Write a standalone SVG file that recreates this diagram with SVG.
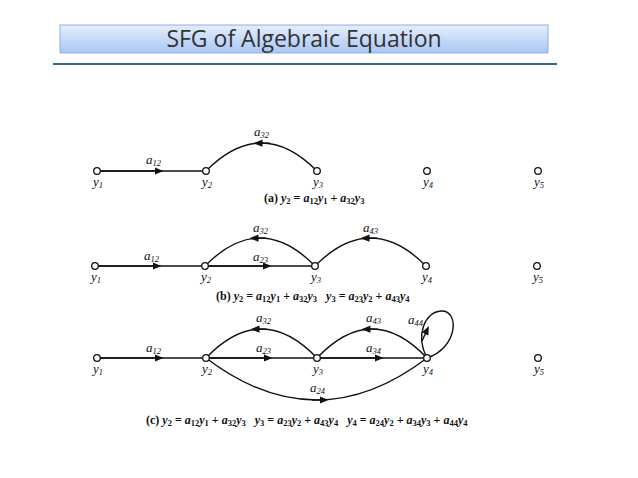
<svg xmlns="http://www.w3.org/2000/svg" width="638" height="478" viewBox="0 0 638 478">
<defs>
<linearGradient id="tg" x1="0" y1="0" x2="0" y2="1"><stop offset="0" stop-color="#e4eefd"/><stop offset="1" stop-color="#a9c6f3"/></linearGradient>
<marker id="ar" viewBox="0 0 10 10" refX="5" refY="5" markerWidth="9" markerHeight="9" orient="auto" markerUnits="userSpaceOnUse"><path d="M0,1 L10,5 L0,9 Z" fill="#111"/></marker>
</defs>
<style>
.e{fill:none;stroke:#111;stroke-width:1.4}
.n{fill:#fff;stroke:#111;stroke-width:1.3}
.t{font-family:"Liberation Serif",serif;font-style:italic;font-size:13px;fill:#111}
.c{font-family:"Liberation Serif",serif;font-size:12px;fill:#111;font-weight:bold}
.s{font-size:8.5px}
</style>
<rect width="638" height="478" fill="#fff"/>
<rect x="60" y="25" width="488" height="28" fill="url(#tg)" stroke="#8fb0dd" stroke-width="1"/>
<text x="304" y="47" text-anchor="middle" font-family="Open Sans, sans-serif" font-size="23" fill="#333">SFG of Algebraic Equation</text>
<line x1="53" y1="64" x2="557" y2="64" stroke="#2e6e86" stroke-width="2"/>
<g id="connectors">
<path class="e" d="M97,171 H206"/><path class="e" d="M97,171 H159" marker-end="url(#ar)"/>
<path class="e" d="M206,171 Q261.5,115 317,171"/>
<path class="e" d="M270,143.2 L258,143.2" marker-end="url(#ar)"/>
<path class="e" d="M95,266 H315"/>
<path class="e" d="M95,266 H157" marker-end="url(#ar)"/>
<path class="e" d="M205,266 H267" marker-end="url(#ar)"/>
<path class="e" d="M205,266 Q260,210 315,266"/><path class="e" d="M266,238.2 L254,238.2" marker-end="url(#ar)"/>
<path class="e" d="M315,266 Q370.5,210 426,266"/><path class="e" d="M377,238.2 L365,238.2" marker-end="url(#ar)"/>
<path class="e" d="M97,358 H427"/>
<path class="e" d="M97,358 H159" marker-end="url(#ar)"/>
<path class="e" d="M206,358 H268" marker-end="url(#ar)"/>
<path class="e" d="M317,358 H379" marker-end="url(#ar)"/>
<path class="e" d="M206,358 Q261.5,300 317,358"/><path class="e" d="M267,329.2 L255,329.2" marker-end="url(#ar)"/>
<path class="e" d="M317,358 Q372,300 427,358"/><path class="e" d="M378,329.2 L366,329.2" marker-end="url(#ar)"/>
<path class="e" d="M206,358 Q316.5,442 427,358"/><path class="e" d="M312,400 L324,400" marker-end="url(#ar)"/>
<path class="e" d="M427,358 C415,335 425,312 441,311 C460,310 458,348 427,358"/>
<path class="e" d="M422,341 L427,330" marker-end="url(#ar)"/>
</g>
<g id="n1"><circle class="n" cx="97" cy="171" r="3.3"/><text class="t" x="93" y="186">y<tspan class="s" dy="2">1</tspan></text></g>
<g id="n2"><circle class="n" cx="206" cy="171" r="3.3"/><text class="t" x="202" y="186">y<tspan class="s" dy="2">2</tspan></text></g>
<g id="n3"><circle class="n" cx="317" cy="171" r="3.3"/><text class="t" x="313" y="186">y<tspan class="s" dy="2">3</tspan></text></g>
<g id="n4"><circle class="n" cx="427" cy="171" r="3.3"/><text class="t" x="423" y="186">y<tspan class="s" dy="2">4</tspan></text></g>
<g id="n5"><circle class="n" cx="538" cy="171" r="3.3"/><text class="t" x="534" y="186">y<tspan class="s" dy="2">5</tspan></text></g>
<g id="la"><text class="t" x="146" y="164">a<tspan class="s" dy="2">12</tspan></text><text class="t" x="254" y="136">a<tspan class="s" dy="2">32</tspan></text>
<text class="c" x="264" y="202">(a) <tspan font-style="italic">y</tspan><tspan class="s" dy="2">2</tspan><tspan dy="-2"> = </tspan><tspan font-style="italic">a</tspan><tspan class="s" dy="2">12</tspan><tspan dy="-2" font-style="italic">y</tspan><tspan class="s" dy="2">1</tspan><tspan dy="-2"> + </tspan><tspan font-style="italic">a</tspan><tspan class="s" dy="2">32</tspan><tspan dy="-2" font-style="italic">y</tspan><tspan class="s" dy="2">3</tspan></text></g>

<g id="m1"><circle class="n" cx="95" cy="266" r="3.3"/><text class="t" x="91" y="281">y<tspan class="s" dy="2">1</tspan></text></g>
<g id="m2"><circle class="n" cx="205" cy="266" r="3.3"/><text class="t" x="201" y="281">y<tspan class="s" dy="2">2</tspan></text></g>
<g id="m3"><circle class="n" cx="315" cy="266" r="3.3"/><text class="t" x="311" y="281">y<tspan class="s" dy="2">3</tspan></text></g>
<g id="m4"><circle class="n" cx="426" cy="266" r="3.3"/><text class="t" x="422" y="281">y<tspan class="s" dy="2">4</tspan></text></g>
<g id="m5"><circle class="n" cx="537" cy="266" r="3.3"/><text class="t" x="533" y="281">y<tspan class="s" dy="2">5</tspan></text></g>
<g id="lb"><text class="t" x="144" y="260">a<tspan class="s" dy="2">12</tspan></text><text class="t" x="253" y="232">a<tspan class="s" dy="2">32</tspan></text><text class="t" x="253" y="261">a<tspan class="s" dy="2">23</tspan></text><text class="t" x="363" y="232">a<tspan class="s" dy="2">43</tspan></text>
<text class="c" x="216" y="300">(b) <tspan font-style="italic">y</tspan><tspan class="s" dy="2">2</tspan><tspan dy="-2"> = </tspan><tspan font-style="italic">a</tspan><tspan class="s" dy="2">12</tspan><tspan dy="-2" font-style="italic">y</tspan><tspan class="s" dy="2">1</tspan><tspan dy="-2"> + </tspan><tspan font-style="italic">a</tspan><tspan class="s" dy="2">32</tspan><tspan dy="-2" font-style="italic">y</tspan><tspan class="s" dy="2">3</tspan><tspan dy="-2" dx="9" font-style="italic">y</tspan><tspan class="s" dy="2">3</tspan><tspan dy="-2"> = </tspan><tspan font-style="italic">a</tspan><tspan class="s" dy="2">23</tspan><tspan dy="-2" font-style="italic">y</tspan><tspan class="s" dy="2">2</tspan><tspan dy="-2"> + </tspan><tspan font-style="italic">a</tspan><tspan class="s" dy="2">43</tspan><tspan dy="-2" font-style="italic">y</tspan><tspan class="s" dy="2">4</tspan></text></g>

<g id="k1"><circle class="n" cx="97" cy="358" r="3.3"/><text class="t" x="93" y="373">y<tspan class="s" dy="2">1</tspan></text></g>
<g id="k2"><circle class="n" cx="206" cy="358" r="3.3"/><text class="t" x="202" y="373">y<tspan class="s" dy="2">2</tspan></text></g>
<g id="k3"><circle class="n" cx="317" cy="358" r="3.3"/><text class="t" x="313" y="373">y<tspan class="s" dy="2">3</tspan></text></g>
<g id="k4"><circle class="n" cx="427" cy="358" r="3.3"/><text class="t" x="423" y="373">y<tspan class="s" dy="2">4</tspan></text></g>
<g id="k5"><circle class="n" cx="538" cy="358" r="3.3"/><text class="t" x="534" y="373">y<tspan class="s" dy="2">5</tspan></text></g>
<g id="lc"><text class="t" x="146" y="352">a<tspan class="s" dy="2">12</tspan></text><text class="t" x="256" y="322">a<tspan class="s" dy="2">32</tspan></text><text class="t" x="256" y="352">a<tspan class="s" dy="2">23</tspan></text><text class="t" x="366" y="322">a<tspan class="s" dy="2">43</tspan></text><text class="t" x="366" y="352">a<tspan class="s" dy="2">34</tspan></text><text class="t" x="408" y="324">a<tspan class="s" dy="2">44</tspan></text><text class="t" x="310" y="392">a<tspan class="s" dy="2">24</tspan></text>
<text class="c" x="146" y="424">(c) <tspan font-style="italic">y</tspan><tspan class="s" dy="2">2</tspan><tspan dy="-2"> = </tspan><tspan font-style="italic">a</tspan><tspan class="s" dy="2">12</tspan><tspan dy="-2" font-style="italic">y</tspan><tspan class="s" dy="2">1</tspan><tspan dy="-2"> + </tspan><tspan font-style="italic">a</tspan><tspan class="s" dy="2">32</tspan><tspan dy="-2" font-style="italic">y</tspan><tspan class="s" dy="2">3</tspan><tspan dy="-2" dx="9" font-style="italic">y</tspan><tspan class="s" dy="2">3</tspan><tspan dy="-2"> = </tspan><tspan font-style="italic">a</tspan><tspan class="s" dy="2">23</tspan><tspan dy="-2" font-style="italic">y</tspan><tspan class="s" dy="2">2</tspan><tspan dy="-2"> + </tspan><tspan font-style="italic">a</tspan><tspan class="s" dy="2">43</tspan><tspan dy="-2" font-style="italic">y</tspan><tspan class="s" dy="2">4</tspan><tspan dy="-2" dx="9" font-style="italic">y</tspan><tspan class="s" dy="2">4</tspan><tspan dy="-2"> = </tspan><tspan font-style="italic">a</tspan><tspan class="s" dy="2">24</tspan><tspan dy="-2" font-style="italic">y</tspan><tspan class="s" dy="2">2</tspan><tspan dy="-2"> + </tspan><tspan font-style="italic">a</tspan><tspan class="s" dy="2">34</tspan><tspan dy="-2" font-style="italic">y</tspan><tspan class="s" dy="2">3</tspan><tspan dy="-2"> + </tspan><tspan font-style="italic">a</tspan><tspan class="s" dy="2">44</tspan><tspan dy="-2" font-style="italic">y</tspan><tspan class="s" dy="2">4</tspan></text></g>
</svg>
